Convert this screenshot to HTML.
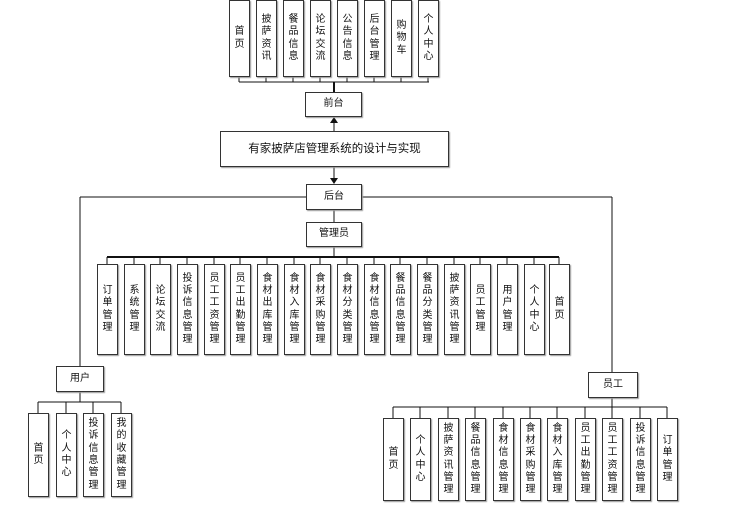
<!DOCTYPE html>
<html><head><meta charset="utf-8"><style>
body{margin:0;width:735px;height:515px;background:#fff;position:relative;overflow:hidden;font-family:"Liberation Sans","Noto Sans CJK SC",sans-serif;color:#111}
.b{position:absolute;box-sizing:border-box;border:1px solid #333;background:#fff;box-shadow:1px 1px 1px #999;display:flex;align-items:center;justify-content:center;text-align:center;font-size:10px;line-height:12.3px}
.v{width:21px}
svg{position:absolute;left:0;top:0}
</style></head><body>
<svg width="735" height="515">
<g stroke="#111" stroke-width="1" fill="none">
<path d="M239 77V82M266 77V82M293 77V82M320 77V82M347 77V82M374 77V82M401 77V82M428 77V82M239 82H429"/>
<path d="M334 82V92" stroke-width="2"/>
<path d="M334 131V122M334 167V179"/>
<path d="M80 197H306M362 197H612M80 197V366M612 197V372M334 210V222M334 247V257"/>
<path d="M107 257H559" stroke-width="2"/>
<path d="M107 257V264M134 257V264M160 257V264M187 257V264M214 257V264M240 257V264M267 257V264M294 257V264M320 257V264M347 257V264M374 257V264M400 257V264M427 257V264M454 257V264M480 257V264M507 257V264M534 257V264M559 257V264"/>
<path d="M80 392V402M38 402H121M38 402V413M66 402V413M93 402V413M121 402V413"/>
<path d="M612 398V407M393 407H667M393 407V418M420 407V418M448 407V418M475 407V418M503 407V418M530 407V418M557 407V418M585 407V418M612 407V418M640 407V418M667 407V418"/>
</g>
<path d="M330 123L334 117L338 123Z" fill="#111"/>
<path d="M330 178L334 184L338 178Z" fill="#111"/>
</svg>

<div class="b v" style="left:229px;top:0;height:77px">首<br>页</div>
<div class="b v" style="left:256px;top:0;height:77px">披<br>萨<br>资<br>讯</div>
<div class="b v" style="left:283px;top:0;height:77px">餐<br>品<br>信<br>息</div>
<div class="b v" style="left:310px;top:0;height:77px">论<br>坛<br>交<br>流</div>
<div class="b v" style="left:337px;top:0;height:77px">公<br>告<br>信<br>息</div>
<div class="b v" style="left:364px;top:0;height:77px">后<br>台<br>管<br>理</div>
<div class="b v" style="left:391px;top:0;height:77px">购<br>物<br>车</div>
<div class="b v" style="left:418px;top:0;height:77px">个<br>人<br>中<br>心</div>

<div class="b" style="left:305px;top:92px;width:57px;height:25px">前台</div>
<div class="b" style="left:220px;top:131px;width:229px;height:36px;font-size:11.5px">有家披萨店管理系统的设计与实现</div>
<div class="b" style="left:306px;top:184px;width:56px;height:26px">后台</div>
<div class="b" style="left:306px;top:222px;width:56px;height:25px">管理员</div>

<div class="b v" style="left:97px;top:264px;height:91px">订<br>单<br>管<br>理</div>
<div class="b v" style="left:124px;top:264px;height:91px">系<br>统<br>管<br>理</div>
<div class="b v" style="left:150px;top:264px;height:91px">论<br>坛<br>交<br>流</div>
<div class="b v" style="left:177px;top:264px;height:91px">投<br>诉<br>信<br>息<br>管<br>理</div>
<div class="b v" style="left:204px;top:264px;height:91px">员<br>工<br>工<br>资<br>管<br>理</div>
<div class="b v" style="left:230px;top:264px;height:91px">员<br>工<br>出<br>勤<br>管<br>理</div>
<div class="b v" style="left:257px;top:264px;height:91px">食<br>材<br>出<br>库<br>管<br>理</div>
<div class="b v" style="left:284px;top:264px;height:91px">食<br>材<br>入<br>库<br>管<br>理</div>
<div class="b v" style="left:310px;top:264px;height:91px">食<br>材<br>采<br>购<br>管<br>理</div>
<div class="b v" style="left:337px;top:264px;height:91px">食<br>材<br>分<br>类<br>管<br>理</div>
<div class="b v" style="left:364px;top:264px;height:91px">食<br>材<br>信<br>息<br>管<br>理</div>
<div class="b v" style="left:390px;top:264px;height:91px">餐<br>品<br>信<br>息<br>管<br>理</div>
<div class="b v" style="left:417px;top:264px;height:91px">餐<br>品<br>分<br>类<br>管<br>理</div>
<div class="b v" style="left:444px;top:264px;height:91px">披<br>萨<br>资<br>讯<br>管<br>理</div>
<div class="b v" style="left:470px;top:264px;height:91px">员<br>工<br>管<br>理</div>
<div class="b v" style="left:497px;top:264px;height:91px">用<br>户<br>管<br>理</div>
<div class="b v" style="left:524px;top:264px;height:91px">个<br>人<br>中<br>心</div>
<div class="b v" style="left:549px;top:264px;height:91px">首<br>页</div>

<div class="b" style="left:56px;top:366px;width:48px;height:26px">用户</div>
<div class="b v" style="left:28px;top:413px;height:84px">首<br>页</div>
<div class="b v" style="left:56px;top:413px;height:84px">个<br>人<br>中<br>心</div>
<div class="b v" style="left:83px;top:413px;height:84px">投<br>诉<br>信<br>息<br>管<br>理</div>
<div class="b v" style="left:111px;top:413px;height:84px">我<br>的<br>收<br>藏<br>管<br>理</div>

<div class="b" style="left:588px;top:372px;width:50px;height:26px">员工</div>
<div class="b v" style="left:383px;top:418px;height:83px">首<br>页</div>
<div class="b v" style="left:410px;top:418px;height:83px">个<br>人<br>中<br>心</div>
<div class="b v" style="left:438px;top:418px;height:83px">披<br>萨<br>资<br>讯<br>管<br>理</div>
<div class="b v" style="left:465px;top:418px;height:83px">餐<br>品<br>信<br>息<br>管<br>理</div>
<div class="b v" style="left:493px;top:418px;height:83px">食<br>材<br>信<br>息<br>管<br>理</div>
<div class="b v" style="left:520px;top:418px;height:83px">食<br>材<br>采<br>购<br>管<br>理</div>
<div class="b v" style="left:547px;top:418px;height:83px">食<br>材<br>入<br>库<br>管<br>理</div>
<div class="b v" style="left:575px;top:418px;height:83px">员<br>工<br>出<br>勤<br>管<br>理</div>
<div class="b v" style="left:602px;top:418px;height:83px">员<br>工<br>工<br>资<br>管<br>理</div>
<div class="b v" style="left:630px;top:418px;height:83px">投<br>诉<br>信<br>息<br>管<br>理</div>
<div class="b v" style="left:657px;top:418px;height:83px">订<br>单<br>管<br>理</div>
</body></html>
